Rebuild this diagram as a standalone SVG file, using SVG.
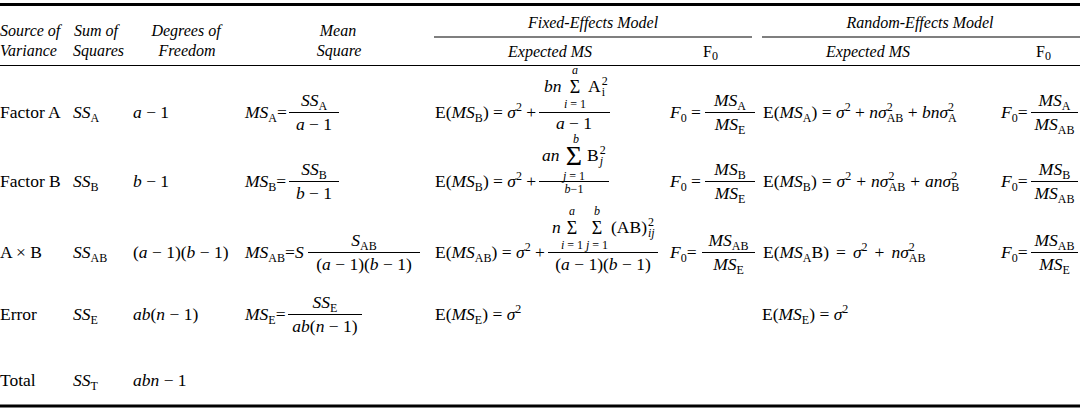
<svg xmlns="http://www.w3.org/2000/svg" width="1080" height="410" viewBox="0 0 1080 410">
<style>
.t{font-family:"Liberation Serif","Times New Roman",serif;font-size:17.5px;fill:#000}
.h{font-family:"Liberation Serif","Times New Roman",serif;font-size:16px;font-style:italic;fill:#000}
.i{font-style:italic}
.s{font-size:12px;font-style:normal}
.si{font-size:12px;font-style:italic}
.sig{font-size:18px;font-style:normal}
.sigL{font-size:28px;font-style:normal}
.m{text-anchor:middle}
.rule{stroke:#000;fill:none}
.bar{stroke:#000;stroke-width:1}
</style>
<rect width="1080" height="410" fill="#fff"/>
<g id="rules">
<line class="rule" x1="0" y1="4.5" x2="1080" y2="4.5" stroke-width="3"/>
<line class="rule" x1="434" y1="37" x2="752" y2="37" stroke-width="1.2"/>
<line class="rule" x1="762" y1="37" x2="1080" y2="37" stroke-width="1.2"/>
<line class="rule" x1="0" y1="65.5" x2="1080" y2="65.5" stroke-width="1.2"/>
<line class="rule" x1="0" y1="406" x2="1080" y2="406" stroke-width="3"/>
</g>
<g id="header">
<text class="h" x="0" y="36">Source of</text>
<text class="h" x="0" y="56">Variance</text>
<text class="h" x="74" y="36">Sum of</text>
<text class="h" x="73" y="56">Squares</text>
<text class="h m" x="186" y="36">Degrees of</text>
<text class="h m" x="187" y="56">Freedom</text>
<text class="h m" x="338" y="36">Mean</text>
<text class="h m" x="339" y="56">Square</text>
<text class="h m" x="593" y="28">Fixed-Effects Model</text>
<text class="h m" x="920" y="28">Random-Effects Model</text>
<text class="h m" x="550" y="57">Expected MS</text>
<text class="t" x="703" y="57" style="font-size:16px">F<tspan class="s" dy="3">0</tspan></text>
<text class="h m" x="868" y="57">Expected MS</text>
<text class="t" x="1036" y="57" style="font-size:16px">F<tspan class="s" dy="3">0</tspan></text>
</g>
<g id="row-factor-a">
<text class="t" x="0" y="118">Factor A</text>
<text class="t i" x="73" y="118">SS<tspan class="s" dy="4">A</tspan></text>
<text class="t" x="133" y="118"><tspan class="i">a</tspan> − 1</text>
<text class="t" x="245" y="118"><tspan class="i">MS</tspan><tspan class="s" dy="4">A</tspan><tspan dy="-4">=</tspan></text>
<line class="bar" x1="289" y1="112.5" x2="339" y2="112.5"/>
<text class="t m" x="314" y="106"><tspan class="i">SS</tspan><tspan class="s" dy="4">A</tspan></text>
<text class="t m" x="314" y="130"><tspan class="i">a</tspan> − 1</text>
<text class="t" x="435" y="118">E(<tspan class="i">MS</tspan><tspan class="s" dy="4">B</tspan><tspan dy="-4">) = </tspan><tspan class="i">σ</tspan><tspan class="s" dy="-7.5">2</tspan><tspan dy="7.5"> +</tspan></text>
<line class="bar" x1="539" y1="112.5" x2="610" y2="112.5"/>
<text class="t i" x="544" y="92">bn</text>
<text class="t sig m" x="575" y="93">Σ</text>
<text class="t si m" x="575" y="74">a</text>
<text class="t si m" x="575" y="107.5">i<tspan class="s"> = 1</tspan></text>
<text class="t" x="588" y="92">A<tspan class="s" dx="1" dy="-7.5">2</tspan><tspan class="s" dx="-6" dy="11.5">i</tspan></text>
<text class="t m" x="574" y="129"><tspan class="i">a</tspan> − 1</text>
<text class="t" x="670" y="118"><tspan class="i">F</tspan><tspan class="s" dy="4">0</tspan><tspan dy="-4"> =</tspan></text>
<line class="bar" x1="705" y1="112.5" x2="755" y2="112.5"/>
<text class="t m" x="730" y="106"><tspan class="i">MS</tspan><tspan class="s" dy="4">A</tspan></text>
<text class="t m" x="730" y="130"><tspan class="i">MS</tspan><tspan class="s" dy="4">E</tspan></text>
<text class="t" x="763" y="118">E(<tspan class="i">MS</tspan><tspan class="s" dy="4">A</tspan><tspan dy="-4">) = </tspan><tspan class="i">σ</tspan><tspan class="s" dy="-7.5">2</tspan><tspan dy="7.5"> + </tspan><tspan class="i">nσ</tspan><tspan class="s" dy="-7.5">2</tspan><tspan class="s" dx="-6" dy="11.5">AB</tspan><tspan dy="-4"> + </tspan><tspan class="i">bnσ</tspan><tspan class="s" dy="-7.5">2</tspan><tspan class="s" dx="-6" dy="11.5">A</tspan></text>
<text class="t" x="1001" y="118"><tspan class="i">F</tspan><tspan class="s" dy="4">0</tspan><tspan dy="-4">=</tspan></text>
<line class="bar" x1="1031" y1="112.5" x2="1078" y2="112.5"/>
<text class="t m" x="1054.5" y="106"><tspan class="i">MS</tspan><tspan class="s" dy="4">A</tspan></text>
<text class="t m" x="1054.5" y="130"><tspan class="i">MS</tspan><tspan class="s" dy="4">AB</tspan></text>
</g>
<g id="row-factor-b">
<text class="t" x="0" y="187">Factor B</text>
<text class="t i" x="73" y="187">SS<tspan class="s" dy="4">B</tspan></text>
<text class="t" x="133" y="187"><tspan class="i">b</tspan> − 1</text>
<text class="t" x="245" y="187"><tspan class="i">MS</tspan><tspan class="s" dy="4">B</tspan><tspan dy="-4">=</tspan></text>
<line class="bar" x1="289" y1="181.5" x2="339" y2="181.5"/>
<text class="t m" x="314" y="175"><tspan class="i">SS</tspan><tspan class="s" dy="4">B</tspan></text>
<text class="t m" x="314" y="199"><tspan class="i">b</tspan> − 1</text>
<text class="t" x="435" y="187">E(<tspan class="i">MS</tspan><tspan class="s" dy="4">B</tspan><tspan dy="-4">) = </tspan><tspan class="i">σ</tspan><tspan class="s" dy="-7.5">2</tspan><tspan dy="7.5"> +</tspan></text>
<line class="bar" x1="539" y1="181.5" x2="609" y2="181.5"/>
<text class="t i" x="542" y="161">an</text>
<text class="t sigL m" x="574" y="165">Σ</text>
<text class="t si m" x="576" y="143">b</text>
<text class="t si m" x="574" y="179.5">j<tspan class="s"> = 1</tspan></text>
<text class="t" x="587" y="161">B<tspan class="s" dx="1" dy="-7.5">2</tspan><tspan class="si" dx="-6" dy="11.5">j</tspan></text>
<text class="t m" x="574" y="193" style="font-size:12px"><tspan class="i">b</tspan>−1</text>
<text class="t" x="670" y="187"><tspan class="i">F</tspan><tspan class="s" dy="4">0</tspan><tspan dy="-4"> =</tspan></text>
<line class="bar" x1="705" y1="181.5" x2="755" y2="181.5"/>
<text class="t m" x="730" y="175"><tspan class="i">MS</tspan><tspan class="s" dy="4">B</tspan></text>
<text class="t m" x="730" y="199"><tspan class="i">MS</tspan><tspan class="s" dy="4">E</tspan></text>
<text class="t" x="763" y="187">E(<tspan class="i">MS</tspan><tspan class="s" dy="4">B</tspan><tspan dy="-4">)</tspan><tspan dx="5">=</tspan><tspan dx="5" class="i">σ</tspan><tspan class="s" dy="-7.5">2</tspan><tspan dx="5" dy="7.5">+</tspan><tspan dx="5" class="i">nσ</tspan><tspan class="s" dy="-7.5">2</tspan><tspan class="s" dx="-6" dy="11.5">AB</tspan><tspan dx="5" dy="-4">+</tspan><tspan dx="5" class="i">anσ</tspan><tspan class="s" dy="-7.5">2</tspan><tspan class="s" dx="-6" dy="11.5">B</tspan></text>
<text class="t" x="1001" y="187"><tspan class="i">F</tspan><tspan class="s" dy="4">0</tspan><tspan dy="-4">=</tspan></text>
<line class="bar" x1="1031" y1="181.5" x2="1078" y2="181.5"/>
<text class="t m" x="1054.5" y="175"><tspan class="i">MS</tspan><tspan class="s" dy="4">B</tspan></text>
<text class="t m" x="1054.5" y="199"><tspan class="i">MS</tspan><tspan class="s" dy="4">AB</tspan></text>
</g>
<g id="row-axb">
<text class="t" x="0" y="258">A × B</text>
<text class="t i" x="73" y="258">SS<tspan class="s" dy="4">AB</tspan></text>
<text class="t" x="133" y="258">(<tspan class="i">a</tspan> − 1)(<tspan class="i">b</tspan> − 1)</text>
<text class="t" x="245" y="258"><tspan class="i">MS</tspan><tspan class="s" dy="4">AB</tspan><tspan dy="-4">=</tspan><tspan class="i">S</tspan></text>
<line class="bar" x1="308" y1="252.5" x2="420" y2="252.5"/>
<text class="t m" x="364" y="246"><tspan class="i">S</tspan><tspan class="s" dy="4">AB</tspan></text>
<text class="t m" x="364" y="270">(<tspan class="i">a</tspan> − 1)(<tspan class="i">b</tspan> − 1)</text>
<text class="t" x="435" y="258">E(<tspan class="i">MS</tspan><tspan class="s" dy="4">AB</tspan><tspan dy="-4">) = </tspan><tspan class="i">σ</tspan><tspan class="s" dy="-7.5">2</tspan><tspan dy="7.5"> +</tspan></text>
<line class="bar" x1="548" y1="252.5" x2="658" y2="252.5"/>
<text class="t i" x="552" y="233">n</text>
<text class="t sig m" x="572" y="234">Σ</text>
<text class="t si m" x="572" y="215">a</text>
<text class="t si m" x="572" y="249">i<tspan class="s"> = 1</tspan></text>
<text class="t sig m" x="597" y="234">Σ</text>
<text class="t si m" x="597" y="215">b</text>
<text class="t si m" x="597" y="249">j<tspan class="s"> = 1</tspan></text>
<text class="t" x="611" y="233">(AB)<tspan class="s" dx="1" dy="-7.5">2</tspan><tspan class="si" dx="-6" dy="11.5">ij</tspan></text>
<text class="t m" x="603" y="270">(<tspan class="i">a</tspan> − 1)(<tspan class="i">b</tspan> − 1)</text>
<text class="t" x="670" y="258"><tspan class="i">F</tspan><tspan class="s" dy="4">0</tspan><tspan dy="-4">=</tspan></text>
<line class="bar" x1="702" y1="252.5" x2="755" y2="252.5"/>
<text class="t m" x="728.5" y="246"><tspan class="i">MS</tspan><tspan class="s" dy="4">AB</tspan></text>
<text class="t m" x="728.5" y="270"><tspan class="i">MS</tspan><tspan class="s" dy="4">E</tspan></text>
<text class="t" x="763" y="258">E(<tspan class="i">MS</tspan><tspan class="s" dy="4">A</tspan><tspan dy="-4">B)</tspan><tspan dx="7">=</tspan><tspan dx="7" class="i">σ</tspan><tspan class="s" dy="-7.5">2</tspan><tspan dx="7" dy="7.5">+</tspan><tspan dx="7" class="i">nσ</tspan><tspan class="s" dy="-7.5">2</tspan><tspan class="s" dx="-6" dy="11.5">AB</tspan></text>
<text class="t" x="1001" y="258"><tspan class="i">F</tspan><tspan class="s" dy="4">0</tspan><tspan dy="-4">=</tspan></text>
<line class="bar" x1="1031" y1="252.5" x2="1078" y2="252.5"/>
<text class="t m" x="1054.5" y="246"><tspan class="i">MS</tspan><tspan class="s" dy="4">AB</tspan></text>
<text class="t m" x="1054.5" y="270"><tspan class="i">MS</tspan><tspan class="s" dy="4">E</tspan></text>
</g>
<g id="row-error">
<text class="t" x="0" y="320">Error</text>
<text class="t i" x="73" y="320">SS<tspan class="s" dy="4">E</tspan></text>
<text class="t" x="133" y="320"><tspan class="i">ab</tspan>(<tspan class="i">n</tspan> − 1)</text>
<text class="t" x="245" y="320"><tspan class="i">MS</tspan><tspan class="s" dy="4">E</tspan><tspan dy="-4">=</tspan></text>
<line class="bar" x1="288" y1="314.5" x2="362" y2="314.5"/>
<text class="t m" x="325" y="308"><tspan class="i">SS</tspan><tspan class="s" dy="4">E</tspan></text>
<text class="t m" x="325" y="332"><tspan class="i">ab</tspan>(<tspan class="i">n</tspan> − 1)</text>
<text class="t" x="435" y="320">E(<tspan class="i">MS</tspan><tspan class="s" dy="4">E</tspan><tspan dy="-4">) = </tspan><tspan class="i">σ</tspan><tspan class="s" dy="-7.5">2</tspan></text>
<text class="t" x="762" y="320">E(<tspan class="i">MS</tspan><tspan class="s" dy="4">E</tspan><tspan dy="-4">) = </tspan><tspan class="i">σ</tspan><tspan class="s" dy="-7.5">2</tspan></text>
</g>
<g id="row-total">
<text class="t" x="0" y="386">Total</text>
<text class="t i" x="73" y="386">SS<tspan class="s" dy="4">T</tspan></text>
<text class="t" x="133" y="386"><tspan class="i">abn</tspan> − 1</text>
</g>
</svg>
